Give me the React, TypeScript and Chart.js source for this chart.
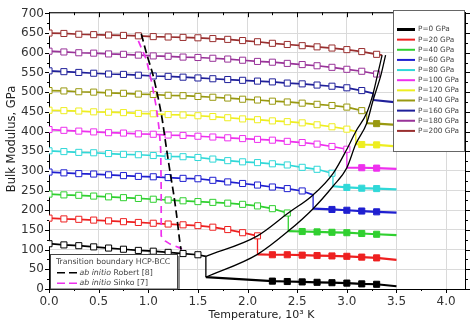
import React, { useEffect, useRef } from 'react';
import { Chart, registerables } from 'chart.js';

Chart.register(...registerables);

// ---------------- data ----------------
const pressures = [0, 20, 40, 60, 80, 100, 120, 140, 160, 180, 200];
const seriesColors = ['#000000', '#ee2020', '#30d030', '#1f1fd0', '#30d8d8', '#ee30ee', '#eeee20', '#999910', '#20209a', '#993399', '#992f2f'];

// temperatures (10^3 K) of the HCP open-square points
const hcpT = [0, 0.15, 0.3, 0.45, 0.6, 0.75, 0.9, 1.05, 1.2, 1.35, 1.5, 1.65, 1.8, 1.95, 2.1, 2.25, 2.4, 2.55, 2.7, 2.85, 3.0, 3.15, 3.3];

// HCP bulk modulus (GPa)
const hcpP0 = [115, 112, 110, 107, 104, 101, 98, 96, 93, 90, 87];
const hcpP20 = [180, 178, 177, 175, 173, 171, 169, 167, 165, 163, 161, 157, 151, 143, 135];
const hcpP40 = [241, 239, 238, 236, 234, 232, 230, 228, 226, 224, 222, 220, 218, 215, 211, 204, 193];
const hcpP60 = [297, 295, 293, 292, 290, 288, 286, 285, 283, 281, 280, 276, 272, 268, 264, 259, 255, 249];
const hcpP80 = [351, 349, 347, 346, 344, 342, 341, 339, 337, 336, 334, 330, 326, 323, 321, 318, 315, 309, 304, 294];
const hcpP100 = [405, 403, 401, 399, 397, 396, 394, 393, 391, 390, 388, 386, 384, 382, 380, 378, 375, 372, 368, 362, 355];
const hcpP120 = [454, 453, 452, 450, 449, 448, 446, 445, 443, 442, 440, 438, 435, 432, 430, 427, 425, 422, 417, 412, 406];
const hcpP140 = [504, 503, 501, 500, 498, 497, 495, 494, 492, 491, 489, 487, 485, 482, 480, 477, 475, 472, 469, 466, 462, 453];
const hcpP160 = [554, 552, 550, 548, 546, 545, 543, 541, 540, 538, 536, 534, 532, 530, 528, 526, 523, 521, 518, 515, 511, 504];
const hcpP180 = [604, 602, 600, 599, 597, 596, 594, 592, 591, 589, 588, 586, 584, 581, 578, 576, 573, 570, 567, 563, 558, 553, 546];
const hcpP200 = [650, 649, 647, 646, 645, 644, 643, 641, 640, 639, 638, 636, 634, 631, 628, 624, 621, 618, 615, 612, 608, 603, 596];
const hcpSeries = [hcpP0, hcpP20, hcpP40, hcpP60, hcpP80, hcpP100, hcpP120, hcpP140, hcpP160, hcpP180, hcpP200];

// HCP -> BCC transition
const transT = [1.58, 2.1, 2.41, 2.66, 2.86, 3.0, 3.09, 3.2, 3.265, 3.31, 3.355];
const hcpEndK = [83, 135, 193, 239, 293, 355, 400, 447, 497, 545, 594];
const bccStartK = [30, 88, 147, 204, 261, 308, 368, 421, 480];

// BCC filled-square temperatures (each series uses the last n of them)
const bccT = [2.25, 2.4, 2.55, 2.7, 2.85, 3.0, 3.15, 3.3];
const bccP0 = [20, 19, 18, 17, 16, 15, 13, 12];
const bccP20 = [87, 87, 86, 85, 84, 83, 81, 79];
const bccP40 = [146, 145, 144, 143, 141, 139];
const bccP60 = [202, 200, 198, 196];
const bccP80 = [258, 256, 255];
const bccP100 = [308, 307];
const bccP120 = [367, 366];
const bccP140 = [420];
const bccP160: number[] = [];
const bccSeries = [bccP0, bccP20, bccP40, bccP60, bccP80, bccP100, bccP120, bccP140, bccP160];
const bccEndT = 3.5;
const bccEndK = [7, 74, 137, 194, 253, 305, 362, 417, 474];

// upper end of the BCC-side boundary
const lowerTopT = [3.345, 3.39];
const lowerTopK = [545, 594];

// ab initio boundaries
const robertT = [0.93, 0.98, 1.05, 1.13, 1.18, 1.22, 1.255, 1.285, 1.315, 1.33];
const robertK = [648, 600, 541, 446, 362, 296, 242, 188, 125, 100];
const sinkoT = [0.9, 0.98, 1.03, 1.08, 1.11, 1.125, 1.13, 1.13, 1.17, 1.22, 1.31, 1.36];
const sinkoK = [630, 583, 530, 463, 405, 354, 250, 135, 122, 114, 105, 100];

const xTickStep = 0.5;
const yTickStep = 50;

// ---------------- helpers ----------------
const FONT = '"DejaVu Sans", "Liberation Sans", Arial, sans-serif';

type Pt = { x: number; y: number; m: string; ph: string };

function buildSeries(i: number): Pt[] {
  const pts: Pt[] = hcpSeries[i].map((k, j) => ({ x: hcpT[j], y: k, m: 'o', ph: 'h' }));
  pts.push({ x: transT[i], y: hcpEndK[i], m: '', ph: 'h' });
  if (i < bccStartK.length) {
    pts.push({ x: transT[i], y: bccStartK[i], m: '', ph: 'b' });
    const b = bccSeries[i];
    const off = bccT.length - b.length;
    b.forEach((k, j) => pts.push({ x: bccT[off + j], y: k, m: 'f', ph: 'b' }));
    pts.push({ x: bccEndT, y: bccEndK[i], m: '', ph: 'b' });
  }
  return pts;
}

const framePlugin = {
  id: 'frame',
  afterDraw(chart: any) {
    const { ctx, chartArea: a, scales } = chart;
    const xs = scales.x;
    const ys = scales.y;
    ctx.save();
    ctx.strokeStyle = '#000';
    ctx.lineWidth = 1;
    ctx.beginPath();
    ctx.moveTo(a.left, a.top + 0.5);
    ctx.lineTo(a.right, a.top + 0.5);
    ctx.moveTo(a.right - 0.5, a.top);
    ctx.lineTo(a.right - 0.5, a.bottom);
    for (let v = 0; v <= ys.max + 1e-6; v += yTickStep / 2) {
      const py = Math.round(ys.getPixelForValue(v)) + 0.5;
      const major = Math.abs(v % yTickStep) < 1e-6;
      const len = major ? 4 : 2;
      ctx.moveTo(a.left - len, py);
      ctx.lineTo(a.left, py);
      ctx.moveTo(a.right, py);
      ctx.lineTo(a.right + len, py);
    }
    for (let v = 0; v <= xs.max + 1e-6; v += xTickStep / 2) {
      const px = Math.round(xs.getPixelForValue(v)) + 0.5;
      const major = Math.abs(v / xTickStep - Math.round(v / xTickStep)) < 1e-6;
      const len = major ? 4 : 2;
      ctx.moveTo(px, a.bottom);
      ctx.lineTo(px, a.bottom + len);
      ctx.moveTo(px, a.top);
      ctx.lineTo(px, a.top + len + 1);
    }
    ctx.stroke();

    // axis titles
    ctx.fillStyle = '#222';
    ctx.textAlign = 'center';
    ctx.textBaseline = 'middle';
    ctx.font = `11px ${FONT}`;
    ctx.fillText('Temperature, 10\u00B3 K', 261.5, 315.5);
    ctx.save();
    ctx.translate(12, 139);
    ctx.rotate(-Math.PI / 2);
    ctx.font = `11.5px ${FONT}`;
    ctx.fillText('Bulk Modulus, GPa', 0, 0);
    ctx.restore();

    // right legend
    ctx.fillStyle = '#fff';
    ctx.fillRect(393.5, 10.5, 71, 141);
    ctx.strokeStyle = '#666';
    ctx.strokeRect(393.5, 10.5, 71, 141);
    ctx.textAlign = 'left';
    ctx.font = `7.3px ${FONT}`;
    pressures.forEach((p, i) => {
      const ry = 29.5 + i * 10.14;
      ctx.strokeStyle = seriesColors[i];
      ctx.lineWidth = i === 0 ? 3 : 2;
      ctx.beginPath();
      ctx.moveTo(397, ry);
      ctx.lineTo(415, ry);
      ctx.stroke();
      ctx.fillStyle = '#444';
      ctx.fillText(`P=${p} GPa`, 418, ry);
    });

    // bottom-left legend
    ctx.fillStyle = '#fff';
    ctx.fillRect(50, 254.5, 127.5, 34);
    ctx.strokeStyle = '#444';
    ctx.lineWidth = 1;
    ctx.strokeRect(50.5, 254.5, 127, 34.5);
    ctx.strokeStyle = '#666';
    ctx.lineWidth = 1.5;
    ctx.beginPath();
    ctx.moveTo(179, 256);
    ctx.lineTo(179, 289);
    ctx.stroke();
    ctx.fillStyle = '#444';
    ctx.font = `7.8px ${FONT}`;
    ctx.fillText('Transition boundary HCP-BCC', 56, 262);
    const rows = [
      { y: 272.7, color: '#000', name: ' Robert [8]' },
      { y: 283.3, color: '#ee30ee', name: ' Sinko [7]' },
    ];
    rows.forEach((r) => {
      ctx.strokeStyle = r.color;
      ctx.lineWidth = 1.6;
      ctx.setLineDash([8, 4]);
      ctx.beginPath();
      ctx.moveTo(57, r.y);
      ctx.lineTo(77, r.y);
      ctx.stroke();
      ctx.setLineDash([]);
      ctx.fillStyle = '#444';
      ctx.font = `italic 7.8px ${FONT}`;
      ctx.fillText('ab initio', 79.5, r.y);
      const w = ctx.measureText('ab initio').width;
      ctx.font = `7.8px ${FONT}`;
      ctx.fillText(r.name, 79.5 + w, r.y);
    });
    ctx.restore();
  },
};

export default function App() {
  const ref = useRef<HTMLCanvasElement>(null);
  useEffect(() => {
    const canvas = ref.current;
    if (!canvas) return;
    const datasets: any[] = [];

    datasets.push({
      label: 'Boundary HCP side',
      data: transT.map((t, i) => ({ x: t, y: hcpEndK[i] })),
      borderColor: '#000',
      borderWidth: 1.3,
      pointRadius: 0,
      cubicInterpolationMode: 'monotone',
      order: 0,
    });
    datasets.push({
      label: 'Boundary BCC side',
      data: bccStartK.map((k, i) => ({ x: transT[i], y: k })).concat(lowerTopT.map((t, i) => ({ x: t, y: lowerTopK[i] }))),
      borderColor: '#000',
      borderWidth: 1.3,
      pointRadius: 0,
      cubicInterpolationMode: 'monotone',
      order: 0,
    });
    datasets.push({
      label: 'ab initio Robert [8]',
      data: robertT.map((t, i) => ({ x: t, y: robertK[i] })),
      borderColor: '#000',
      borderWidth: 1.7,
      borderDash: [8, 4],
      pointRadius: 0,
      tension: 0.3,
      order: 0,
    });
    datasets.push({
      label: 'ab initio Sinko [7]',
      data: sinkoT.map((t, i) => ({ x: t, y: sinkoK[i] })),
      borderColor: '#ee30ee',
      borderWidth: 1.7,
      borderDash: [7, 5],
      pointRadius: 0,
      tension: 0,
      order: 0,
    });

    pressures.forEach((p, i) => {
      const pts = buildSeries(i);
      const color = seriesColors[i];
      datasets.push({
        label: `P=${p} GPa`,
        data: pts,
        borderColor: color,
        borderWidth: 1.7,
        pointStyle: 'rect',
        pointRadius: (c: any) => (c.raw && c.raw.m ? 4.3 : 0),
        pointBorderColor: color,
        pointBorderWidth: 1,
        pointBackgroundColor: (c: any) => (c.raw && c.raw.m === 'f' ? color : '#ffffff'),
        segment: {
          borderWidth: (c: any) => {
            const a = pts[c.p0DataIndex];
            const b = pts[c.p1DataIndex];
            if (a.ph === 'h' && b.ph === 'b') return 1.3;
            if (a.ph === 'b' && b.ph === 'b') return 2.2;
            return 1.7;
          },
        },
        tension: 0,
        order: 1,
      });
    });

    const tickFont = { family: FONT, size: 12 };
    const chart = new Chart(canvas, {
      type: 'line',
      data: { datasets },
      options: {
        animation: false,
        responsive: false,
        events: [],
        layout: { padding: { top: 7, right: 8, left: 0, bottom: 0 } },
        plugins: { legend: { display: false }, tooltip: { enabled: false } },
        scales: {
          x: {
            type: 'linear',
            min: 0,
            max: 4.2,
            afterFit: (s: any) => {
              s.height = 36;
            },
            grid: { color: '#dadada', drawTicks: false, lineWidth: 1 },
            border: { display: true, color: '#000', width: 1 },
            ticks: {
              stepSize: xTickStep,
              includeBounds: false,
              padding: 6,
              color: '#333',
              font: tickFont,
              maxRotation: 0,
              autoSkip: false,
              callback: (v: any) => Number(v).toFixed(1),
            },
          },
          y: {
            type: 'linear',
            min: 0,
            max: 703,
            afterFit: (s: any) => {
              s.width = 49;
            },
            grid: { color: '#dadada', drawTicks: false, lineWidth: 1 },
            border: { display: true, color: '#000', width: 1 },
            ticks: {
              stepSize: yTickStep,
              includeBounds: false,
              padding: 5,
              color: '#333',
              font: tickFont,
              autoSkip: false,
            },
          },
        },
      } as any,
      plugins: [framePlugin],
    });
    return () => chart.destroy();
  }, []);

  return (
    <div style={{ position: 'absolute', left: 0, top: 0, width: 474, height: 325, background: '#fff' }}>
      <canvas ref={ref} width={474} height={325} style={{ display: 'block' }} />
    </div>
  );
}
